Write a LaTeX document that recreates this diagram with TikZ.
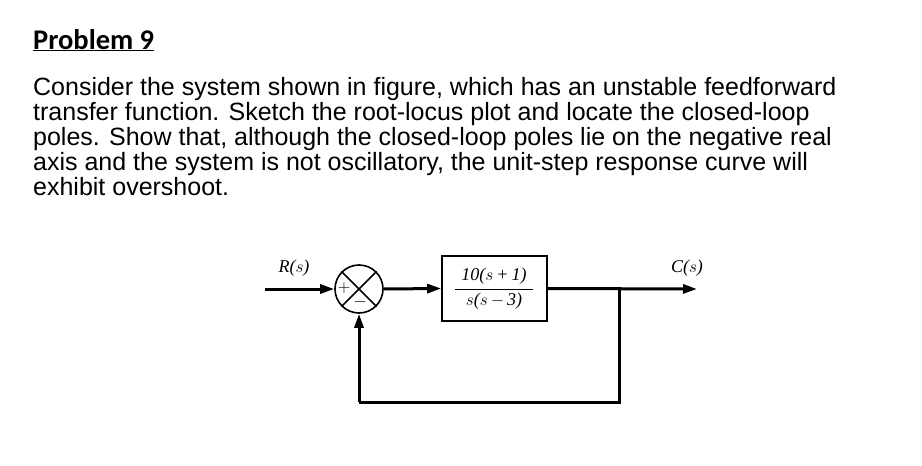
\documentclass[tikz,border=0pt]{standalone}
\usepackage{fontspec}
\setmainfont{Liberation Serif}
\newfontfamily\arial{Liberation Sans}
\newfontfamily\calib{Carlito}
\usetikzlibrary{arrows.meta}
\begin{document}
\begin{tikzpicture}[x=1pt,y=-1pt,
  sig/.style={line width=3pt,-{Triangle[length=14pt,width=9pt]}},
  wire/.style={line width=3pt},
  txt/.style={anchor=base west,inner sep=0pt,font=\arial\fontsize{25}{25}\selectfont},
  lbl/.style={inner sep=0pt,font=\fontsize{18}{20}\selectfont\itshape}]
\useasboundingbox[fill=white] (0,0) rectangle (922,466);
\node[anchor=base west,inner sep=0pt,font=\calib\bfseries\fontsize{28.5}{30}\selectfont] (title) at (33,49) {\underline{Problem 9}};
\node[txt] (l1) at (33,95) {Consider the system shown in figure, which has an unstable feedforward};
\node[txt] (l2) at (33,120) {transfer function. Sketch the root-locus plot and locate the closed-loop};
\node[txt] (l3) at (33,145) {poles. Show that, although the closed-loop poles lie on the negative real};
\node[txt] (l4) at (33,170) {axis and the system is not oscillatory, the unit-step response curve will};
\node[txt] (l5) at (33,195) {exhibit overshoot.};
% block diagram
\coordinate (in) at (265,289);
\node[draw,circle,line width=1.6pt,minimum size=48pt,inner sep=0pt] (sum) at (359,289) {};
\draw[line width=1.6pt] (sum.north west) -- (sum.south east) (sum.north east) -- (sum.south west);
\node[font=\fontsize{16}{16}\selectfont] at (344,288) {$+$};
\node[font=\fontsize{16}{16}\selectfont] at (360,302) {$-$};
\node[draw,line width=1.6pt,minimum width=105pt,minimum height=65pt,inner sep=0pt] (G) at (494.5,288.5) {};
\node[lbl] at (494,276) {10($s$\,+\,1)};
\draw[line width=1pt] (455,289) -- (533,289);
\node[lbl] at (494,301) {$s$($s$\,$-$\,3)};
\coordinate (br) at (619,289);
\coordinate (out) at (697,289);
\coordinate (bl) at (359,402);
\coordinate (brb) at (619,402);
\draw[sig] (in) -- (sum.west);
\draw[sig] (sum.east) -- (G.west);
\draw[sig] (G.east) -- (out);
\draw[wire,line join=miter] (br) -- (brb) -- (bl);
\draw[sig] (bl) -- (sum.south);
\node[lbl] (R) at (294,268) {R($s$)};
\node[lbl] (C) at (687,268) {C($s$)};
\end{tikzpicture}
\end{document}
